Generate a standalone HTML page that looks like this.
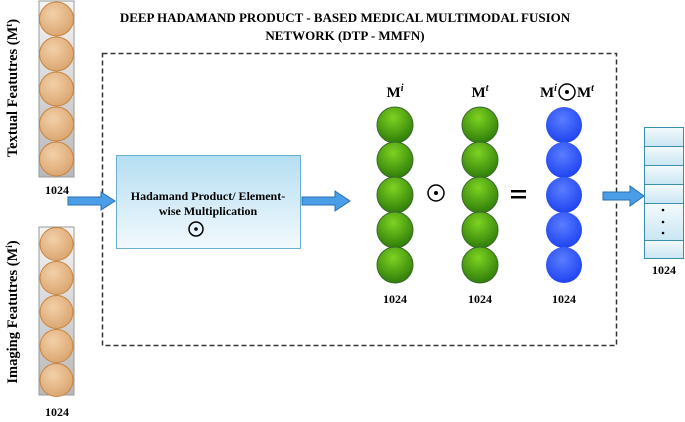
<!DOCTYPE html>
<html><head><style>body{margin:0;background:#fff}svg{display:block}text{font-family:"Liberation Serif",serif;font-weight:bold}</style></head><body>
<svg width="685" height="422" viewBox="0 0 685 422" xmlns="http://www.w3.org/2000/svg">
<defs>
<linearGradient id="bar" x1="0" x2="0" y1="0" y2="1"><stop offset="0" stop-color="#f4f4f4"/><stop offset="1" stop-color="#b8b8b8"/></linearGradient>
<radialGradient id="tan" cx="0.4" cy="0.35" r="0.7"><stop offset="0" stop-color="#f3d0a8"/><stop offset="1" stop-color="#d9a46e"/></radialGradient>
<radialGradient id="grn" cx="0.45" cy="0.3" r="0.7"><stop offset="0" stop-color="#7ed321"/><stop offset="1" stop-color="#2f7d0a"/></radialGradient>
<radialGradient id="blu" cx="0.45" cy="0.35" r="0.7"><stop offset="0" stop-color="#5a7dff"/><stop offset="1" stop-color="#1a3ff0"/></radialGradient>
<linearGradient id="box" x1="0" x2="0" y1="0" y2="1"><stop offset="0" stop-color="#b5def2"/><stop offset="1" stop-color="#f2f9fd"/></linearGradient>
<linearGradient id="cell" x1="0" x2="0" y1="0" y2="1"><stop offset="0" stop-color="#f4fafd"/><stop offset="1" stop-color="#c9e6f3"/></linearGradient>
</defs>
<rect x="39" y="1" width="35" height="176" fill="url(#bar)" stroke="#999"/>
<rect x="39" y="227" width="35" height="168" fill="url(#bar)" stroke="#999"/>
<g fill="url(#tan)" stroke="#c8843f" stroke-width="1">
<circle cx="56.5" cy="19" r="17"/><circle cx="56.5" cy="54" r="17"/><circle cx="56.5" cy="89" r="17"/><circle cx="56.5" cy="124" r="17"/><circle cx="56.5" cy="159" r="17"/>
<circle cx="56.5" cy="244" r="16.5"/><circle cx="56.5" cy="278" r="16.5"/><circle cx="56.5" cy="312" r="16.5"/><circle cx="56.5" cy="346" r="16.5"/><circle cx="56.5" cy="380" r="16.5"/>
</g>
<text x="57" y="194" font-size="12" text-anchor="middle">1024</text>
<text x="57" y="416" font-size="12" text-anchor="middle">1024</text>
<text transform="translate(17,88) rotate(-90)" font-size="14.5" text-anchor="middle">Textual Featutres (M<tspan font-size="9" dy="-5">t</tspan><tspan dy="5">)</tspan></text>
<text transform="translate(17,312) rotate(-90)" font-size="14.5" text-anchor="middle">Imaging Featutres (M<tspan font-size="9" dy="-5">i</tspan><tspan dy="5">)</tspan></text>
<text x="345" y="22" font-size="13" text-anchor="middle">DEEP HADAMAND PRODUCT - BASED MEDICAL MULTIMODAL FUSION</text>
<text x="345" y="40" font-size="13" text-anchor="middle">NETWORK (DTP - MMFN)</text>
<rect x="102.5" y="53.5" width="514" height="292" fill="none" stroke="#333" stroke-width="1.5" stroke-dasharray="5,3"/>
<g fill="#4a9ee8" stroke="#2a6fb0" stroke-width="1">
<path d="M68,197 H101 V192 L115,201 L101,210 V205 H68 Z"/>
<path d="M302,197 H335 V191 L350,201 L335,211 V205 H302 Z"/>
<path d="M603,192 H630 V186 L644,196 L630,206 V200 H603 Z"/>
</g>
<rect x="116.5" y="155.5" width="184" height="93" fill="url(#box)" stroke="#6aaed0"/>
<text x="208" y="200" font-size="12" text-anchor="middle">Hadamand Product/ Element-</text>
<text x="208" y="215" font-size="12" text-anchor="middle">wise Multiplication</text>
<circle cx="196" cy="229" r="7" fill="none" stroke="#000" stroke-width="1.5"/><circle cx="196" cy="229" r="1.8" fill="#000"/>
<g stroke="#3a6a2a" stroke-width="1" fill="url(#grn)">
<circle cx="395" cy="125" r="18"/><circle cx="395" cy="160" r="18"/><circle cx="395" cy="195" r="18"/><circle cx="395" cy="230" r="18"/><circle cx="395" cy="265" r="18"/>
<circle cx="480" cy="125" r="18"/><circle cx="480" cy="160" r="18"/><circle cx="480" cy="195" r="18"/><circle cx="480" cy="230" r="18"/><circle cx="480" cy="265" r="18"/>
</g>
<g fill="url(#blu)">
<circle cx="564" cy="125" r="18"/><circle cx="564" cy="160" r="18"/><circle cx="564" cy="195" r="18"/><circle cx="564" cy="230" r="18"/><circle cx="564" cy="265" r="18"/>
</g>
<text x="395" y="97" font-size="15" text-anchor="middle">M<tspan font-size="10" dy="-6" font-style="italic">i</tspan></text>
<text x="480" y="97" font-size="15" text-anchor="middle">M<tspan font-size="10" dy="-6" font-style="italic">t</tspan></text>
<text x="540" y="97" font-size="15">M<tspan font-size="10" dy="-6" font-style="italic">i</tspan></text>
<circle cx="567" cy="92" r="8" fill="none" stroke="#000" stroke-width="1.5"/><circle cx="567" cy="92" r="2" fill="#000"/>
<text x="577" y="97" font-size="15">M<tspan font-size="10" dy="-6" font-style="italic">t</tspan></text>
<circle cx="436" cy="193" r="8" fill="none" stroke="#000" stroke-width="1.5"/><circle cx="436" cy="193" r="2" fill="#000"/>
<rect x="511" y="190" width="15" height="2.5" fill="#000"/><rect x="511" y="196" width="15" height="2.5" fill="#000"/>
<text x="395" y="303" font-size="12" text-anchor="middle">1024</text>
<text x="480" y="303" font-size="12" text-anchor="middle">1024</text>
<text x="564" y="303" font-size="12" text-anchor="middle">1024</text>
<g fill="url(#cell)" stroke="#3a8fb0" stroke-width="1">
<rect x="644.5" y="127.5" width="39" height="19"/><rect x="644.5" y="146.5" width="39" height="19"/><rect x="644.5" y="165.5" width="39" height="19"/><rect x="644.5" y="184.5" width="39" height="19"/><rect x="644.5" y="203.5" width="39" height="37"/><rect x="644.5" y="240.5" width="39" height="18"/>
</g>
<circle cx="663" cy="210" r="1.3" fill="#000"/><circle cx="663" cy="222" r="1.3" fill="#000"/><circle cx="663" cy="233" r="1.3" fill="#000"/>
<text x="664" y="274" font-size="12" text-anchor="middle">1024</text>
</svg>
</body></html>
